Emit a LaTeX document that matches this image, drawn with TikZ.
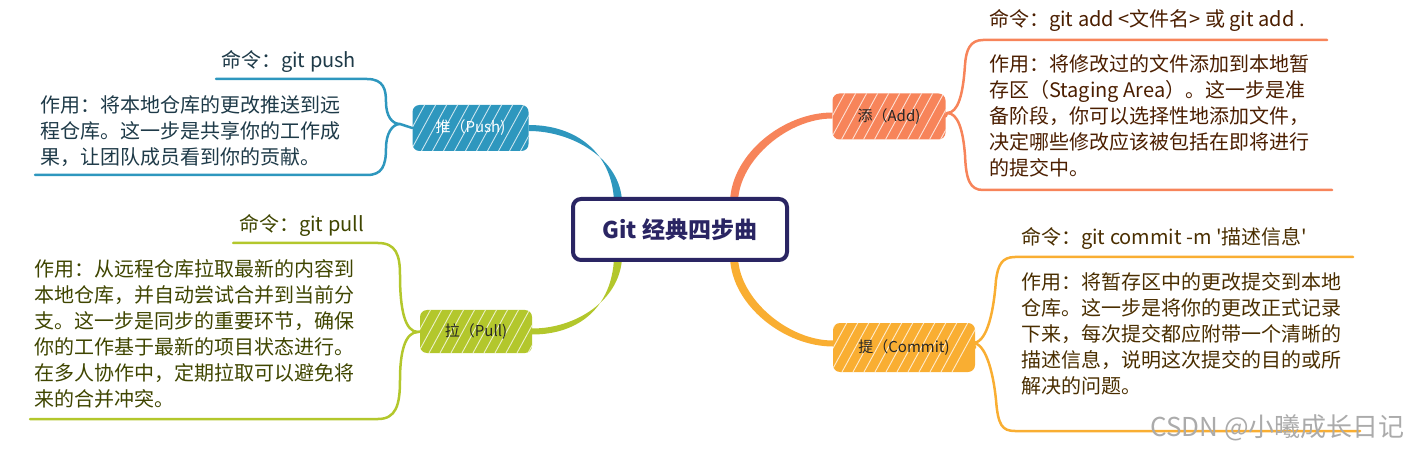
\documentclass[tikz,border=0pt]{standalone}
\usepackage{fontspec}
\newfontfamily\cjk{Noto Sans CJK SC}
\usetikzlibrary{calc,backgrounds}
\definecolor{pushc}{HTML}{2E97BE}
\definecolor{addc}{HTML}{F7845A}
\definecolor{pullc}{HTML}{B3C72C}
\definecolor{commitc}{HTML}{F9AE32}
\definecolor{navy}{HTML}{2A2563}
\definecolor{pusht}{HTML}{1E3A48}
\definecolor{addt}{HTML}{4B1E00}
\definecolor{committ}{HTML}{4A2E00}
\definecolor{pullt}{HTML}{3F4500}
\definecolor{wm}{HTML}{ABABAB}
\begin{document}
\begin{tikzpicture}[x=1pt,y=-1pt,
  centerbox/.style={draw=navy, line width=4pt, fill=white, rounded corners=8pt,
    minimum width=214pt, minimum height=61pt, inner sep=0pt,
    text=navy, font=\cjk\bfseries\fontsize{23}{27}\selectfont},
  branch/.style={rounded corners=7pt, minimum height=46pt, inner sep=0pt,
    font=\cjk\fontsize{15}{17}\selectfont,
    path picture={\foreach \k in {0,...,14}{\draw[white,line width=0.9pt,opacity=.75]
      ([xshift={\k*11pt-35pt}]path picture bounding box.south west) -- ++(30pt,55pt);}}},
  body/.style={anchor=north west, inner sep=0pt, align=left, font=\cjk\fontsize{20}{26}\selectfont},
  cmd/.style={anchor=west, inner sep=0pt, font=\cjk\fontsize{20}{24}\selectfont},
  brace/.style={line width=2.5pt, line cap=round, line join=round},
]
\useasboundingbox (0,0) rectangle (1408,454);

% central node and branch nodes
\node[centerbox] (c) at (680,229.5) {Git 经典四步曲};
\node[branch, fill=pushc, text=white, minimum width=116pt] (p) at (470.5,128) {推（Push)};
\node[branch, fill=addc, text=black!85, minimum width=113pt] (a) at (889,116.5) {添（Add)};
\node[branch, fill=pullc, text=black!85, minimum width=112pt, minimum height=43pt] (l) at (476,331.5) {拉（Pull)};
\node[branch, fill=commitc, text=black!85, minimum width=142pt, minimum height=49pt] (m) at (904,347.5) {提（Commit)};

% tapered connectors from the centre
\begin{pgfonlayer}{background}
\fill[pushc] ($(c.north)+(-66,4)$) .. controls +(-2,-48) and +(48,0) .. ($(p.east)+(0,-3)$)
  -- ($(p.east)+(0,3)$) .. controls +(44,0) and +(-2,-42) .. ($(c.north)+(-58,4)$) -- cycle;
\fill[addc] ($(c.north)+(50,4)$) .. controls +(2,-48) and +(-48,0) .. ($(a.west)+(0,-4)$)
  -- ($(a.west)+(0,2)$) .. controls +(-44,0) and +(2,-42) .. ($(c.north)+(58,4)$) -- cycle;
\fill[pullc] ($(c.south)+(-66,-4)$) .. controls +(-2,48) and +(48,0) .. ($(l.east)+(0,3)$)
  -- ($(l.east)+(0,-3)$) .. controls +(44,0) and +(-2,42) .. ($(c.south)+(-58,-4)$) -- cycle;
\fill[commitc] ($(c.south)+(50,-4)$) .. controls +(2,48) and +(-48,0) .. ($(m.west)+(0,-1)$)
  -- ($(m.west)+(0,-7)$) .. controls +(-44,0) and +(2,42) .. ($(c.south)+(58,-4)$) -- cycle;
\end{pgfonlayer}

% braces
\coordinate (pA) at (400,124);
\coordinate (pT) at (216,79);
\coordinate (pB) at (35,175);
\draw[brace, pushc] (pT) -- (367,79) .. controls (384,79) and (386,90) .. (386,102)
  .. controls (386,116) and (392,124) .. (pA) .. controls (392,124) and (386,134) .. (386,148)
  .. controls (386,166) and (382,175) .. (367,175) -- (pB);
\draw[brace, pushc] (pA) -- (p.west);

\coordinate (lA) at (418,332);
\coordinate (lT) at (233,243);
\coordinate (lB) at (30,419);
\draw[brace, pullc] (lT) -- (378,243) .. controls (396,243) and (400,255) .. (400,275)
  .. controls (400,310) and (405,332) .. (lA) .. controls (405,332) and (400,352) .. (400,380)
  .. controls (400,405) and (396,419) .. (378,419) -- (lB);
\draw[brace, pullc] (lA) -- (l.west);

\coordinate (aA) at (947,113);
\coordinate (aT) at (1327,40);
\coordinate (aB) at (1332,190);
\draw[brace, addc] (aT) -- (983,40) .. controls (970,40) and (966,50) .. (965,65)
  .. controls (963,95) and (958,113) .. (aA) .. controls (958,113) and (963,130) .. (965,155)
  .. controls (966,180) and (970,190) .. (983,190) -- (aB);
\draw[brace, addc] (aA) -- (a.east);

\coordinate (mA) at (973,343);
\coordinate (mT) at (1353,257);
\coordinate (mB) at (1360,431);
\draw[brace, commitc] (mT) -- (1015,257) .. controls (1002,257) and (998,265) .. (996,280)
  .. controls (993,320) and (985,343) .. (mA) .. controls (985,343) and (993,370) .. (996,400)
  .. controls (998,425) and (1002,431) .. (1015,431) -- (mB);
\draw[brace, commitc] (mA) -- (m.east);

% texts
\node[cmd, text=pusht] (pc) at (221,61) {命令：git push};
\node[body, text=pusht] (pb) at (40,95) {作用：将本地仓库的更改推送到远\\程仓库。这一步是共享你的工作成\\果，让团队成员看到你的贡献。};

\node[cmd, text=pullt] (lc) at (239,225) {命令：git pull};
\node[body, text=pullt] (lb) at (34,259) {作用：从远程仓库拉取最新的内容到\\本地仓库，并自动尝试合并到当前分\\支。这一步是同步的重要环节，确保\\你的工作基于最新的项目状态进行。\\在多人协作中，定期拉取可以避免将\\来的合并冲突。};

\node[cmd, text=addt] (ac) at (989,20) {命令：git add <文件名> 或 git add .};
\node[body, text=addt] (ab) at (989,54) {作用：将修改过的文件添加到本地暂\\存区（Staging Area）。这一步是准\\备阶段，你可以选择性地添加文件，\\决定哪些修改应该被包括在即将进行\\的提交中。};

\node[cmd, text=committ] (mc) at (1021,238) {命令：git commit -m '描述信息'};
\node[body, text=committ] (mb) at (1021,272) {作用：将暂存区中的更改提交到本地\\仓库。这一步是将你的更改正式记录\\下来，每次提交都应附带一个清晰的\\描述信息，说明这次提交的目的或所\\解决的问题。};

\node[anchor=east, inner sep=0pt, text=wm, font=\cjk\fontsize{26}{30}\selectfont] (wmk) at (1405,428) {CSDN @小曦成长日记};
\end{tikzpicture}
\end{document}
